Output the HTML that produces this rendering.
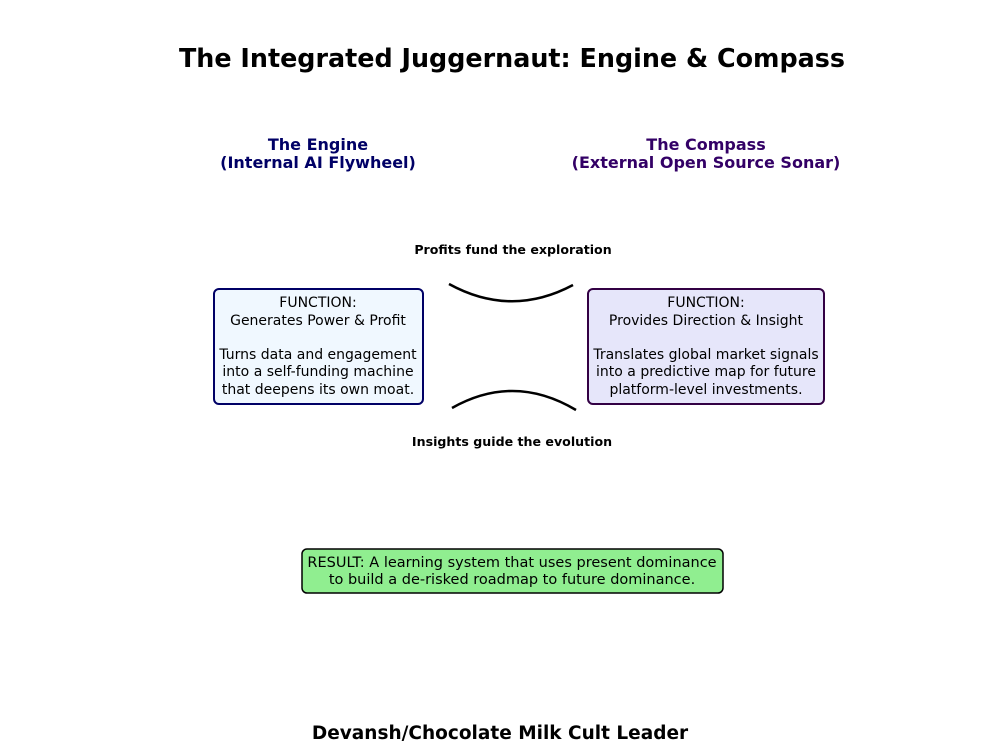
<!DOCTYPE html>
<html><head><meta charset="utf-8"><style>html,body{margin:0;padding:0;background:#fff}</style></head>
<body>
<svg width="1000" height="750" viewBox="0 0 1000 750" xmlns="http://www.w3.org/2000/svg" font-family="DejaVu Sans, sans-serif">
<rect width="1000" height="750" fill="#fff"/>
<text x="512" y="67" font-size="25.4" font-weight="bold" text-anchor="middle">The Integrated Juggernaut: Engine &amp; Compass</text>
<g font-size="16" font-weight="bold" text-anchor="middle">
<text x="318" y="150" fill="#000066">The Engine</text>
<text x="318" y="168" fill="#000066">(Internal AI Flywheel)</text>
<text x="706" y="150" fill="#330066">The Compass</text>
<text x="706" y="168" fill="#330066">(External Open Source Sonar)</text>
</g>
<g font-size="12.6" font-weight="bold" text-anchor="middle">
<text x="513" y="254">Profits fund the exploration</text>
<text x="512" y="446">Insights guide the evolution</text>
</g>
<path d="M449,284 Q511,318 573,285" fill="none" stroke="#000" stroke-width="2.5"/>
<path d="M452,408 Q514,373 576,410" fill="none" stroke="#000" stroke-width="2.5"/>
<rect x="214" y="289" width="209" height="115" rx="5" fill="#f0f8ff" stroke="#000066" stroke-width="2"/>
<rect x="588" y="289" width="236" height="115" rx="5" fill="#e6e6fa" stroke="#330044" stroke-width="2"/>
<g font-size="14" text-anchor="middle">
<text x="318" y="307">FUNCTION:</text>
<text x="318" y="325">Generates Power &amp; Profit</text>
<text x="318" y="359">Turns data and engagement</text>
<text x="318" y="376">into a self-funding machine</text>
<text x="318" y="394">that deepens its own moat.</text>
<text x="706" y="307">FUNCTION:</text>
<text x="706" y="325">Provides Direction &amp; Insight</text>
<text x="706" y="359">Translates global market signals</text>
<text x="706" y="376">into a predictive map for future</text>
<text x="706" y="394">platform-level investments.</text>
</g>
<rect x="302" y="549" width="421" height="44" rx="5" fill="#90ee90" stroke="#000" stroke-width="1.5"/>
<g font-size="14.5" text-anchor="middle">
<text x="512" y="567">RESULT: A learning system that uses present dominance</text>
<text x="512" y="584">to build a de-risked roadmap to future dominance.</text>
</g>
<text x="500" y="739" font-size="18.5" font-weight="bold" text-anchor="middle">Devansh/Chocolate Milk Cult Leader</text>
</svg>
</body></html>
